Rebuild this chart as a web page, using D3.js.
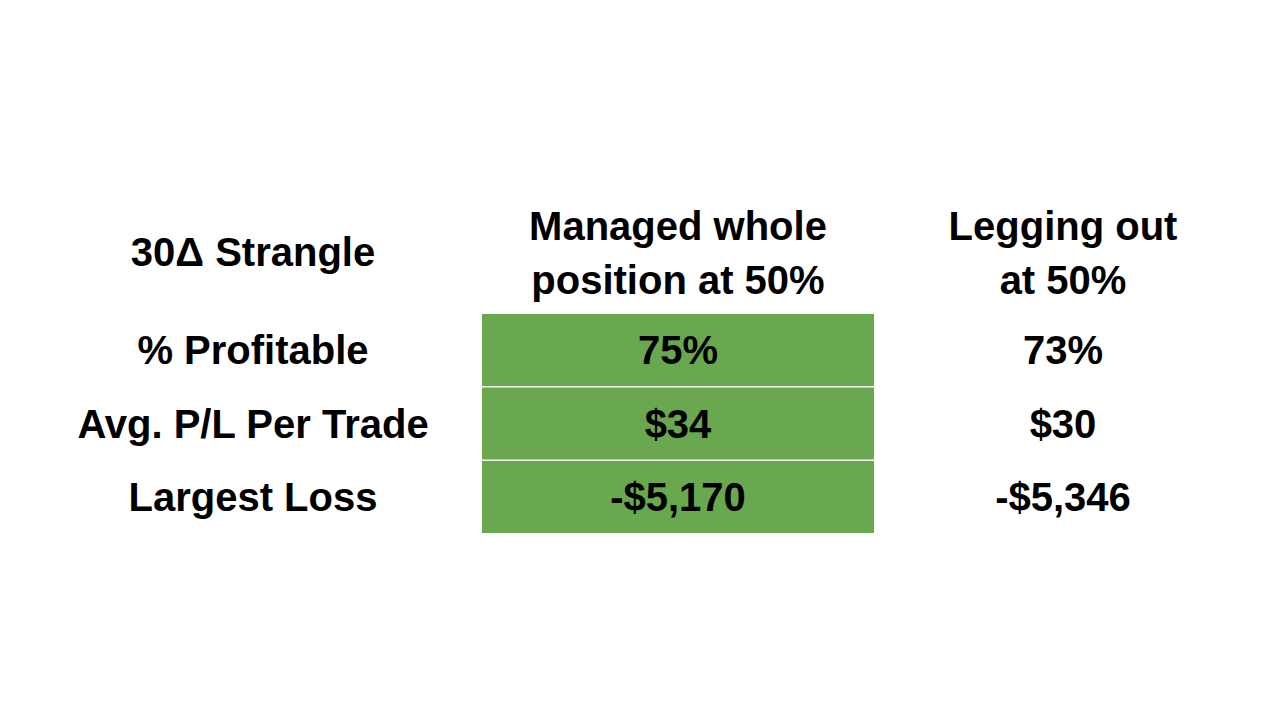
<!DOCTYPE html>
<html><head><meta charset="utf-8">
<script src="https://cdn.jsdelivr.net/npm/d3@7"></script>
<style>body{margin:0;background:#fff}</style></head>
<body><svg id="c" width="1280" height="720"></svg>
<script>
const title = "30Δ Strangle";
const columns = [["Managed whole","position at 50%"],["Legging out","at 50%"]];
const metrics = ["% Profitable","Avg. P/L Per Trade","Largest Loss"];
const managed = ["75%","$34","-$5,170"];
const legging = ["73%","$30","-$5,346"];

const svg = d3.select("#c");
const font = "'Liberation Sans', Arial, sans-serif";
const x = d3.scaleOrdinal().domain([0,1,2]).range([253,678,1063]);
const y = d3.scaleBand().domain(d3.range(metrics.length)).range([314,533]).paddingInner(0.02);

svg.selectAll("rect.cell").data(managed).join("rect")
  .attr("x",482).attr("width",392)
  .attr("y",(d,i)=>y(i)).attr("height",y.bandwidth())
  .attr("fill","#6aa84f");

const t = (xx,yy,s)=>svg.append("text").attr("x",xx).attr("y",yy).attr("text-anchor","middle")
  .attr("dominant-baseline","central").attr("font-family",font).attr("font-weight","bold")
  .attr("font-size",40).attr("fill","#000").text(s);

t(x(0),252,title);
columns.forEach((c,ci)=>c.forEach((l,li)=>t(x(ci+1),226+li*54,l)));
metrics.forEach((m,i)=>{
  const cy = y(i)+y.bandwidth()/2;
  t(x(0),cy,m); t(x(1),cy,managed[i]); t(x(2),cy,legging[i]);
});
</script></body></html>
